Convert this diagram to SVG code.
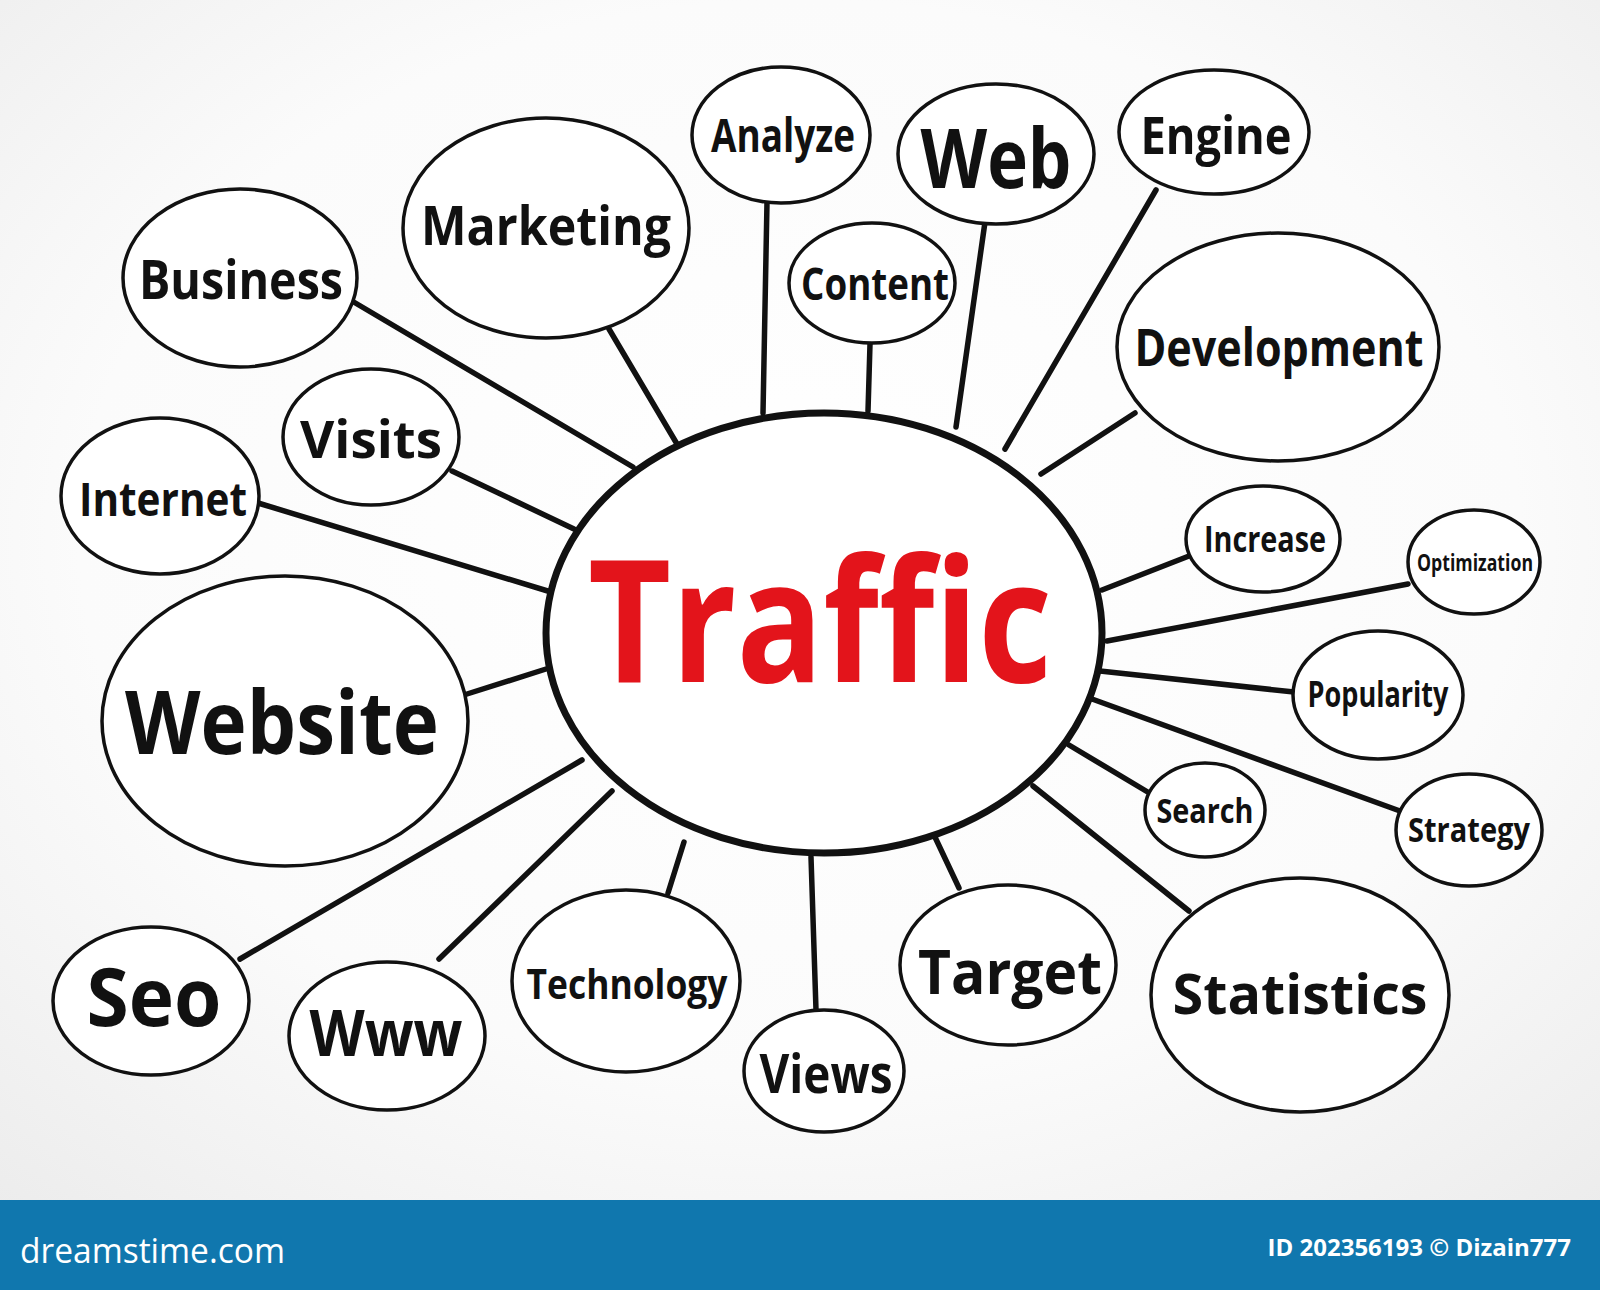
<svg xmlns="http://www.w3.org/2000/svg" width="1600" height="1290" viewBox="0 0 1600 1290">
<defs>
<radialGradient id="bg" cx="50%" cy="45%" r="75%">
<stop offset="0" stop-color="#ffffff"/>
<stop offset="0.6" stop-color="#fbfbfb"/>
<stop offset="1" stop-color="#ececec"/>
</radialGradient>
<style>
.node{fill:#ffffff;stroke:#111;stroke-width:3.5}
.center{fill:#ffffff;stroke:#111;stroke-width:7}
.conn line{stroke:#111;stroke-width:5.5;stroke-linecap:round}
.lbl{font-family:"Open Sans","Liberation Sans",sans-serif;font-weight:700;fill:#111;text-anchor:middle}
.title{font-family:"Open Sans","Liberation Sans",sans-serif;font-weight:700;fill:#e3141b;text-anchor:middle}
.foot{font-family:"Open Sans","Liberation Sans",sans-serif;fill:#ffffff}
</style>
</defs>
<rect x="0" y="0" width="1600" height="1200" fill="url(#bg)"/>
<g id="connectors" class="conn">
<line x1="352" y1="301" x2="633" y2="467"/>
<line x1="609" y1="329" x2="677" y2="444"/>
<line x1="767" y1="202" x2="763" y2="413"/>
<line x1="870" y1="344" x2="868" y2="411"/>
<line x1="985" y1="222" x2="956" y2="427"/>
<line x1="1156" y1="190" x2="1005" y2="449"/>
<line x1="1135" y1="413" x2="1041" y2="474"/>
<line x1="452" y1="471" x2="574" y2="529"/>
<line x1="258" y1="503" x2="551" y2="592"/>
<line x1="467" y1="694" x2="546" y2="669"/>
<line x1="1189" y1="556" x2="1102" y2="590"/>
<line x1="1408" y1="584" x2="1107" y2="641"/>
<line x1="1294" y1="692" x2="1100" y2="671"/>
<line x1="1400" y1="811" x2="1092" y2="699"/>
<line x1="1151" y1="794" x2="1069" y2="745"/>
<line x1="1189" y1="911" x2="1033" y2="786"/>
<line x1="959" y1="888" x2="934" y2="835"/>
<line x1="816" y1="1010" x2="811" y2="857"/>
<line x1="668" y1="893" x2="684" y2="842"/>
<line x1="439" y1="959" x2="612" y2="791"/>
<line x1="240" y1="959" x2="582" y2="760"/>
</g>
<g id="traffic">
<ellipse class="center" cx="824" cy="633" rx="278" ry="220"/>
<text class="title" x="820" y="682" font-size="170" textLength="464" lengthAdjust="spacingAndGlyphs">Traffic</text>
</g>
<g id="business"><ellipse class="node" cx="240" cy="278" rx="117" ry="89"/><text class="lbl" x="241" y="299" font-size="54" textLength="204" lengthAdjust="spacingAndGlyphs">Business</text></g>
<g id="marketing"><ellipse class="node" cx="546" cy="228" rx="143" ry="110"/><text class="lbl" x="546" y="245" font-size="54" textLength="250" lengthAdjust="spacingAndGlyphs">Marketing</text></g>
<g id="analyze"><ellipse class="node" cx="781" cy="135" rx="89" ry="68"/><text class="lbl" x="783" y="152" font-size="46" textLength="144" lengthAdjust="spacingAndGlyphs">Analyze</text></g>
<g id="web"><ellipse class="node" cx="996" cy="154" rx="98" ry="70"/><text class="lbl" x="996" y="188" font-size="82" textLength="151" lengthAdjust="spacingAndGlyphs">Web</text></g>
<g id="engine"><ellipse class="node" cx="1214" cy="132" rx="95" ry="62"/><text class="lbl" x="1216" y="154" font-size="52" textLength="151" lengthAdjust="spacingAndGlyphs">Engine</text></g>
<g id="content"><ellipse class="node" cx="872" cy="283" rx="83" ry="60"/><text class="lbl" x="875" y="300" font-size="44" textLength="148" lengthAdjust="spacingAndGlyphs">Content</text></g>
<g id="development"><ellipse class="node" cx="1278" cy="347" rx="161" ry="114"/><text class="lbl" x="1279" y="366" font-size="52" textLength="289" lengthAdjust="spacingAndGlyphs">Development</text></g>
<g id="visits"><ellipse class="node" cx="371" cy="437" rx="88" ry="68"/><text class="lbl" x="371" y="458" font-size="52" textLength="142" lengthAdjust="spacingAndGlyphs">Visits</text></g>
<g id="internet"><ellipse class="node" cx="160" cy="496" rx="99" ry="78"/><text class="lbl" x="163" y="516" font-size="46" textLength="168" lengthAdjust="spacingAndGlyphs">Internet</text></g>
<g id="website"><ellipse class="node" cx="285" cy="721" rx="183" ry="145"/><text class="lbl" x="282" y="754" font-size="88" textLength="314" lengthAdjust="spacingAndGlyphs">Website</text></g>
<g id="increase"><ellipse class="node" cx="1263" cy="539" rx="77" ry="53"/><text class="lbl" x="1265" y="552" font-size="36" textLength="122" lengthAdjust="spacingAndGlyphs">Increase</text></g>
<g id="optimization"><ellipse class="node" cx="1474" cy="562" rx="66" ry="52"/><text class="lbl" x="1475" y="571" font-size="24" textLength="116" lengthAdjust="spacingAndGlyphs">Optimization</text></g>
<g id="popularity"><ellipse class="node" cx="1378" cy="695" rx="85" ry="64"/><text class="lbl" x="1378" y="707" font-size="36" textLength="141" lengthAdjust="spacingAndGlyphs">Popularity</text></g>
<g id="search"><ellipse class="node" cx="1205" cy="810" rx="60" ry="47"/><text class="lbl" x="1205" y="823" font-size="34" textLength="97" lengthAdjust="spacingAndGlyphs">Search</text></g>
<g id="strategy"><ellipse class="node" cx="1469" cy="830" rx="73" ry="56"/><text class="lbl" x="1469" y="842" font-size="34" textLength="122" lengthAdjust="spacingAndGlyphs">Strategy</text></g>
<g id="seo"><ellipse class="node" cx="151" cy="1001" rx="98" ry="74"/><text class="lbl" x="154" y="1026" font-size="80" textLength="135" lengthAdjust="spacingAndGlyphs">Seo</text></g>
<g id="www"><ellipse class="node" cx="387" cy="1036" rx="98" ry="74"/><text class="lbl" x="386" y="1056" font-size="64" textLength="153" lengthAdjust="spacingAndGlyphs">Www</text></g>
<g id="technology"><ellipse class="node" cx="626" cy="981" rx="114" ry="91"/><text class="lbl" x="627" y="999" font-size="42" textLength="201" lengthAdjust="spacingAndGlyphs">Technology</text></g>
<g id="views"><ellipse class="node" cx="824" cy="1071" rx="80" ry="61"/><text class="lbl" x="826" y="1093" font-size="54" textLength="133" lengthAdjust="spacingAndGlyphs">Views</text></g>
<g id="target"><ellipse class="node" cx="1008" cy="965" rx="108" ry="80"/><text class="lbl" x="1010" y="994" font-size="60" textLength="184" lengthAdjust="spacingAndGlyphs">Target</text></g>
<g id="statistics"><ellipse class="node" cx="1300" cy="995" rx="149" ry="117"/><text class="lbl" x="1300" y="1014" font-size="56" textLength="255" lengthAdjust="spacingAndGlyphs">Statistics</text></g>
<g id="footer">
<rect x="0" y="1200" width="1600" height="90" fill="#1077ae"/>
<text class="foot" x="20" y="1263" font-size="34" textLength="265" lengthAdjust="spacingAndGlyphs">dreamstime.com</text>
<text class="foot" x="1571" y="1256" font-size="24" font-weight="700" text-anchor="end">ID 202356193 © Dizain777</text>
</g>
</svg>
